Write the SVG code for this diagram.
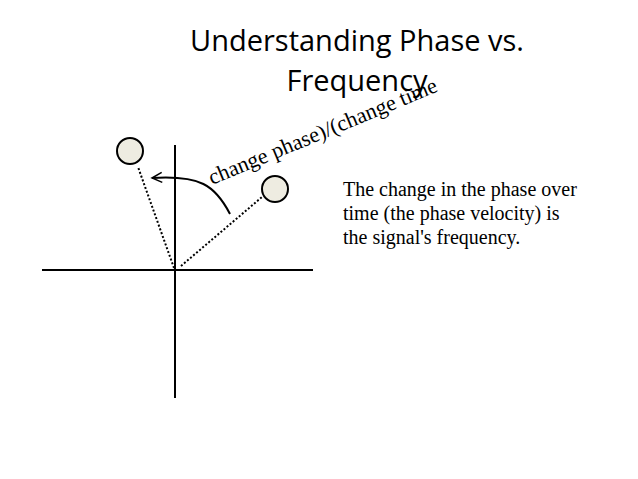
<svg xmlns="http://www.w3.org/2000/svg" width="638" height="479" viewBox="0 0 638 479">
<style>
.t{font-family:"Open Sans","Liberation Sans",sans-serif;font-size:29px;fill:#000;text-anchor:middle}
.b{font-family:"Liberation Serif",serif;font-size:20px;fill:#000}
.c{fill:#eeece1;stroke:#000;stroke-width:2}
.d{stroke:#000;stroke-width:2;stroke-dasharray:2 2;fill:none}
</style>
<defs><marker id="a" markerWidth="14" markerHeight="14" refX="11" refY="6" orient="auto" markerUnits="userSpaceOnUse"><path d="M1,1 L11,6 L1,11" fill="none" stroke="#000" stroke-width="1.5"/></marker></defs>
<rect width="638" height="479" fill="#fff"/>
<g id="title"><text class="t" x="357" y="51">Understanding Phase vs.</text><text class="t" x="357" y="91">Frequency</text></g>
<g id="axes"><line x1="42" y1="270" x2="313" y2="270" stroke="#000" stroke-width="2"/><line x1="175" y1="145" x2="175" y2="398" stroke="#000" stroke-width="2"/></g>
<g id="connectors">
<line class="d" x1="174" y1="268" x2="138" y2="167"/>
<line class="d" x1="181" y1="266" x2="262" y2="197"/>
<path d="M230,214 C215,185 200,175 152,178" fill="none" stroke="#000" stroke-width="2" marker-end="url(#a)"/>
</g>
<g id="p1"><circle class="c" cx="130" cy="151" r="13"/></g>
<g id="p2"><circle class="c" cx="275" cy="189" r="13"/></g>
<g id="label"><text class="b" style="font-size:22px" transform="translate(212,185) rotate(-22.5)">change phase)/(change time</text></g>
<g id="body"><text class="b" x="343" y="196">The change in the phase over</text><text class="b" x="343" y="220">time (the phase velocity) is</text><text class="b" x="343" y="244">the signal's frequency.</text></g>
</svg>
